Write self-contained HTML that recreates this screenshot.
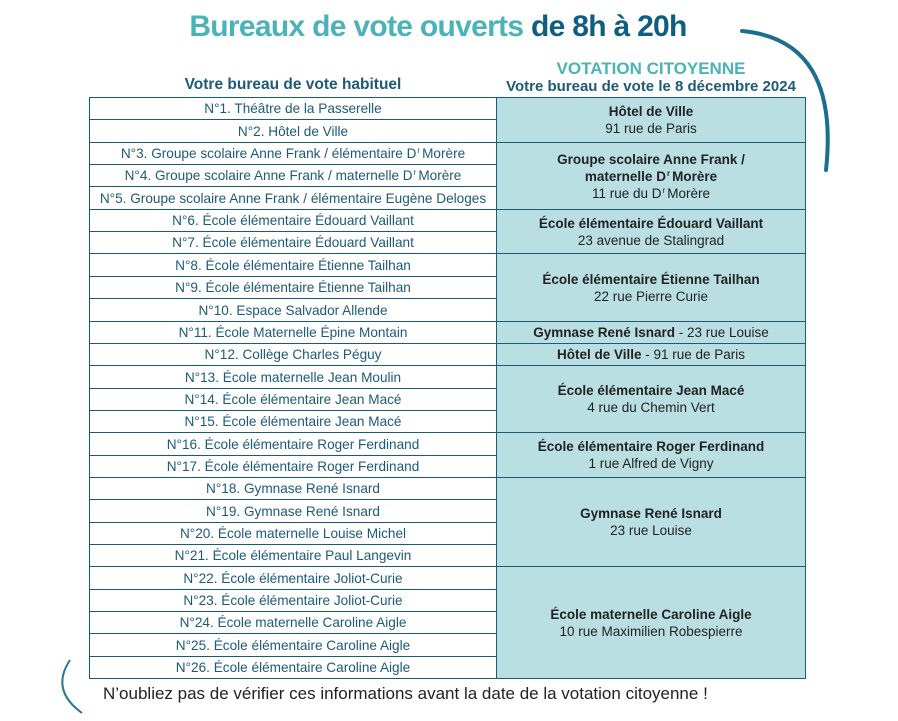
<!DOCTYPE html><html><head><meta charset="utf-8"><style>
body{margin:0;width:898px;height:721px;background:#fff;position:relative;overflow:hidden;font-family:"Liberation Sans",sans-serif}
.a{position:absolute}
.l{position:absolute;left:89px;width:408px;border:1px solid #1d5a78;box-sizing:border-box;text-align:center;color:#1d5a78;font-size:13.6px;display:flex;align-items:center;justify-content:center;margin-top:-1px;white-space:nowrap}
.r{position:absolute;left:496px;width:310px;border:1px solid #1d5a78;box-sizing:border-box;background:#b9dfe2;text-align:center;color:#222;font-size:13.5px;line-height:17px;display:flex;flex-direction:column;align-items:center;justify-content:center;margin-top:-1px}
.r b{font-weight:bold}
sup{font-size:8px;vertical-align:5px;line-height:0;margin-left:1px;margin-right:2px}
</style></head><body>
<div class="a" style="left:0;width:898px;top:10px;text-align:center;font-size:30px;font-weight:bold;letter-spacing:-0.7px"><span style="position:relative;left:-11px"><span style="color:#4bb3b8">Bureaux de vote ouverts</span> <span style="color:#0f5e80">de 8h à 20h</span></span></div>
<svg class="a" style="left:0;top:0" width="898" height="721"><path d="M742 31 Q840 40 826 170" stroke="#1a6f8e" stroke-width="4" fill="none" stroke-linecap="round"/><path d="M70 660 Q50 690 82 713" stroke="#2a7a95" stroke-width="2" fill="none"/></svg>
<div class="a" style="left:89px;width:408px;top:76px;text-align:center;font-weight:bold;font-size:15.5px;color:#1d5a78">Votre bureau de vote habituel</div>
<div class="a" style="left:496px;width:310px;top:59px;text-align:center;font-weight:bold;font-size:17px;color:#4bb3b8">VOTATION CITOYENNE</div>
<div class="a" style="left:490px;width:322px;top:78px;text-align:center;font-weight:bold;font-size:15px;color:#1d5a78">Votre bureau de vote le 8 décembre 2024</div>
<div id="t"></div>
<div class="a" style="left:103px;top:684px;font-size:17px;color:#222">N’oubliez pas de vérifier ces informations avant la date de la votation citoyenne !</div>
<script>
var L=["N°1. Théâtre de la Passerelle","N°2. Hôtel de Ville","N°3. Groupe scolaire Anne Frank / élémentaire D<sup>r</sup>Morère","N°4. Groupe scolaire Anne Frank / maternelle D<sup>r</sup>Morère","N°5. Groupe scolaire Anne Frank / élémentaire Eugène Deloges","N°6. École élémentaire Édouard Vaillant","N°7. École élémentaire Édouard Vaillant","N°8. École élémentaire Étienne Tailhan","N°9. École élémentaire Étienne Tailhan","N°10. Espace Salvador Allende","N°11. École Maternelle Épine Montain","N°12. Collège Charles Péguy","N°13. École maternelle Jean Moulin","N°14. École élémentaire Jean Macé","N°15. École élémentaire Jean Macé","N°16. École élémentaire Roger Ferdinand","N°17. École élémentaire Roger Ferdinand","N°18. Gymnase René Isnard","N°19. Gymnase René Isnard","N°20. École maternelle Louise Michel","N°21. École élémentaire Paul Langevin","N°22. École élémentaire Joliot-Curie","N°23. École élémentaire Joliot-Curie","N°24. École maternelle Caroline Aigle","N°25. École élémentaire Caroline Aigle","N°26. École élémentaire Caroline Aigle"];
var R=[[0,2,"<b>Hôtel de Ville</b><span>91 rue de Paris</span>"],[2,5,"<b>Groupe scolaire Anne Frank /<br>maternelle D<sup>r</sup>Morère</b><span>11 rue du D<sup>r</sup>Morère</span>"],[5,7,"<b>École élémentaire Édouard Vaillant</b><span>23 avenue de Stalingrad</span>"],[7,10,"<b>École élémentaire Étienne Tailhan</b><span>22 rue Pierre Curie</span>"],[10,11,"<span><b>Gymnase René Isnard</b> - 23 rue Louise</span>"],[11,12,"<span><b>Hôtel de Ville</b> - 91 rue de Paris</span>"],[12,15,"<b>École élémentaire Jean Macé</b><span>4 rue du Chemin Vert</span>"],[15,17,"<b>École élémentaire Roger Ferdinand</b><span>1 rue Alfred de Vigny</span>"],[17,21,"<b>Gymnase René Isnard</b><span>23 rue Louise</span>"],[21,26,"<b>École maternelle Caroline Aigle</b><span>10 rue Maximilien Robespierre</span>"]];
var h=22.35,t0=98,s="";
function y(i){return Math.round(t0+i*h)}
L.forEach(function(x,i){s+='<div class="l" style="top:'+y(i)+'px;height:'+(y(i+1)-y(i)+1)+'px"><span>'+x+'</span></div>'});
R.forEach(function(g){s+='<div class="r" style="top:'+y(g[0])+'px;height:'+(y(g[1])-y(g[0])+1)+'px">'+g[2]+'</div>'});
document.getElementById("t").innerHTML=s;
</script>
</body></html>
